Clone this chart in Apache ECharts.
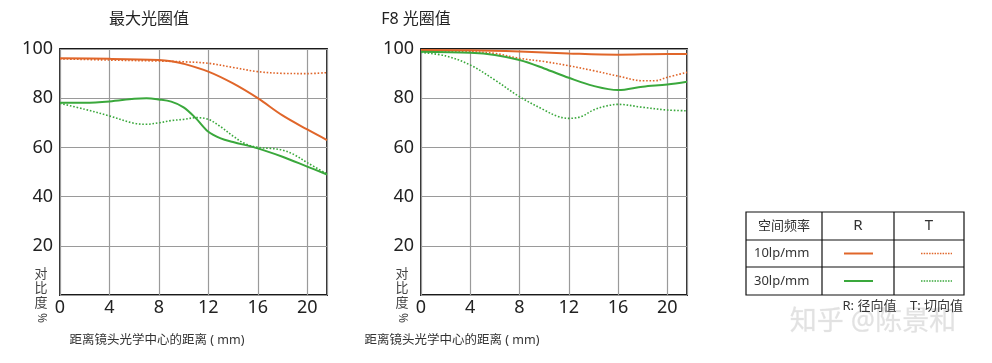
<!DOCTYPE html>
<html><head><meta charset="utf-8">
<script src="https://cdn.jsdelivr.net/npm/echarts@6/dist/echarts.min.js"></script>
<style>html,body{margin:0;padding:0;background:#fff}#c{width:992px;height:363px}</style>
</head><body><div id="c"></div>
<script>
// distance from optical center (mm), contrast (%)
const maxApR10 = [[0,96.2],[4,96],[8,95.5],[9,95],[10,94],[12,90.8],[14,86],[16,80],[18,73],[20,67.3],[21.6,63]];
const maxApT10 = [[0,96],[4,95.5],[8,95.1],[10,94.8],[12,94.2],[14,92.5],[16,90.8],[18,90.1],[20,90],[21.6,90.4]];
const maxApR30 = [[0,78.2],[2,78.2],[4,78.7],[6,79.8],[7,80],[8,79.5],[9,78.6],[10,76.3],[11,71.8],[12,66.4],[13,63.7],[14,62.2],[16,59.6],[18,56.2],[20,52.2],[21.6,49]];
const maxApT30 = [[0,77.9],[2,75.5],[4,72.8],[6,69.8],[7,69.4],[8,70],[9,70.9],[10,71.4],[11,72.1],[12,71.4],[13,68.4],[14,64.6],[15,61.4],[16,60],[17,59.6],[18,58.9],[19,56.9],[20,53.8],[21.6,49.2]];
const f8R10 = [[0,99.6],[4,99.5],[8,99],[12,98.2],[16,97.7],[20,98],[21.6,98]];
const f8T10 = [[0,99.3],[4,98.9],[6,98.2],[8,96.2],[10,94.9],[12,93.2],[14,91.2],[16,89],[18,87.1],[19,87.1],[20,88.5],[21.6,90.5]];
const f8R30 = [[0,98.9],[4,98.5],[6,97.6],[8,95.5],[10,92.1],[12,88.3],[14,85],[16,83.3],[18,84.7],[20,85.6],[21.6,86.7]];
const f8T30 = [[0,98.6],[2,97.2],[4,93.5],[6,87.4],[8,80.6],[10,75.2],[11,72.8],[12,71.8],[13,72.5],[14,75.2],[15,76.8],[16,77.5],[18,76.3],[20,75.2],[21.6,74.9]];
const titles = ['最大光圈值', 'F8 光圈值'];
const xTitle = '距离镜头光学中心的距离 ( mm)';
const yTitleChars = ['对', '比', '度'];
const legendHeader = ['空间频率', 'R', 'T'];
const legendRows = ['10lp/mm', '30lp/mm'];
const caption = 'R: 径向值    T: 切向值';
const watermark = '知乎 @陈景和';

const ORANGE = '#e0662a', GREEN = '#3aa83c';
const FONT = '"Noto Sans", "Noto Sans CJK SC", sans-serif';
const chart = echarts.init(document.getElementById('c'));

function xAx(i){return {gridIndex:i,type:'value',min:0,max:21.6,interval:4,
  axisLine:{show:false},axisTick:{show:false},
  splitLine:{show:true,lineStyle:{color:'#9a9a9a',width:1.2}},
  axisLabel:{showMaxLabel:false,fontSize:18,color:'#222',margin:4,fontFamily:FONT}};}
function yAx(i){return {gridIndex:i,type:'value',min:0,max:100,interval:20,
  axisLine:{show:false},axisTick:{show:false},
  splitLine:{show:true,lineStyle:{color:'#9a9a9a',width:1.2}},
  axisLabel:{fontSize:18,color:'#222',margin:7,fontFamily:FONT,formatter:v=>v===0?'':String(v)}};}
function ser(i,data,color,dotted){return {type:'line',xAxisIndex:i,yAxisIndex:i,data:data,smooth:0.35,
  showSymbol:false,symbol:'none',lineStyle:{color:color,width:dotted?1.6:2,type:dotted?[1.6,1.8]:'solid'},z:3};}

const graphic = [];
const gx = [[60,327],[421,687]];
gx.forEach((g,i)=>{
  graphic.push({type:'text',x:[157,452][i],y:340,style:{text:xTitle,fontSize:12.5,fill:'#333',fontFamily:FONT,align:'center',verticalAlign:'middle'}});
  const cx = g[0]-19;
  yTitleChars.forEach((ch,k)=>{
    graphic.push({type:'text',x:cx,y:274+k*14.5,style:{text:ch,fontSize:13,fill:'#444',fontFamily:FONT,align:'center',verticalAlign:'middle'}});
  });
  graphic.push({type:'text',x:cx,y:318,rotation:-Math.PI/2,style:{text:'%',fontSize:12,fill:'#444',fontFamily:FONT,align:'center',verticalAlign:'middle'}});
});
// legend table
const L=746,R=964,T=212,B=295,c1=822,c2=894,r1=240,r2=267;
graphic.push({type:'rect',shape:{x:L,y:T,width:R-L,height:B-T},style:{fill:'none',stroke:'#111',lineWidth:1.2}});
[[c1,T,c1,B],[c2,T,c2,B],[L,r1,R,r1],[L,r2,R,r2]].forEach(s=>graphic.push({type:'line',shape:{x1:s[0],y1:s[1],x2:s[2],y2:s[3]},style:{stroke:'#111',lineWidth:1.2}}));
const colCx=[(L+c1)/2,(c1+c2)/2,(c2+R)/2], rowCy=[(T+r1)/2,(r1+r2)/2,(r2+B)/2];
legendHeader.forEach((t,k)=>graphic.push({type:'text',x:colCx[k],y:rowCy[0],style:{text:t,fontSize:k===0?13:15,fill:'#333',fontFamily:FONT,align:'center',verticalAlign:'middle'}}));
legendRows.forEach((t,k)=>{
  const y=rowCy[k+1], col=k===0?ORANGE:GREEN;
  graphic.push({type:'text',x:L+8,y:y,style:{text:t,fontSize:13,fill:'#333',fontFamily:FONT,align:'left',verticalAlign:'middle'}});
  graphic.push({type:'line',shape:{x1:844,y1:y,x2:873,y2:y},style:{stroke:col,lineWidth:2}});
  graphic.push({type:'line',shape:{x1:921,y1:y,x2:952,y2:y},style:{stroke:col,lineWidth:1.5,lineDash:[1.5,1.2]}});
});
graphic.push({type:'text',x:963,y:306,style:{text:caption,fontSize:13,fill:'#333',fontFamily:FONT,align:'right',verticalAlign:'middle'}});
graphic.push({type:'text',x:873,y:322,z:-1,style:{text:watermark,fontSize:27,fill:'#e2e2e2',stroke:'#f2f2f2',lineWidth:0.5,fontFamily:FONT,align:'center',verticalAlign:'middle'}});

chart.setOption({
  animation:false,
  textStyle:{fontFamily:FONT},
  title:[
    {text:titles[0],left:144,top:6,textAlign:'center',textStyle:{fontSize:16,fontWeight:'normal',color:'#222',fontFamily:FONT}},
    {text:titles[1],left:411,top:6,textAlign:'center',textStyle:{fontSize:16,fontWeight:'normal',color:'#222',fontFamily:FONT}}
  ],
  grid:[
    {left:60,top:49,width:267,height:246,show:true,borderColor:'#1a1a1a',borderWidth:1.8,backgroundColor:'transparent'},
    {left:421,top:49,width:266,height:246,show:true,borderColor:'#1a1a1a',borderWidth:1.8,backgroundColor:'transparent'}
  ],
  xAxis:[xAx(0),xAx(1)],
  yAxis:[yAx(0),yAx(1)],
  series:[
    ser(0,maxApT10,ORANGE,true),ser(0,maxApT30,GREEN,true),ser(0,maxApR10,ORANGE,false),ser(0,maxApR30,GREEN,false),
    ser(1,f8T10,ORANGE,true),ser(1,f8T30,GREEN,true),ser(1,f8R10,ORANGE,false),ser(1,f8R30,GREEN,false)
  ],
  graphic:graphic
});
</script></body></html>
